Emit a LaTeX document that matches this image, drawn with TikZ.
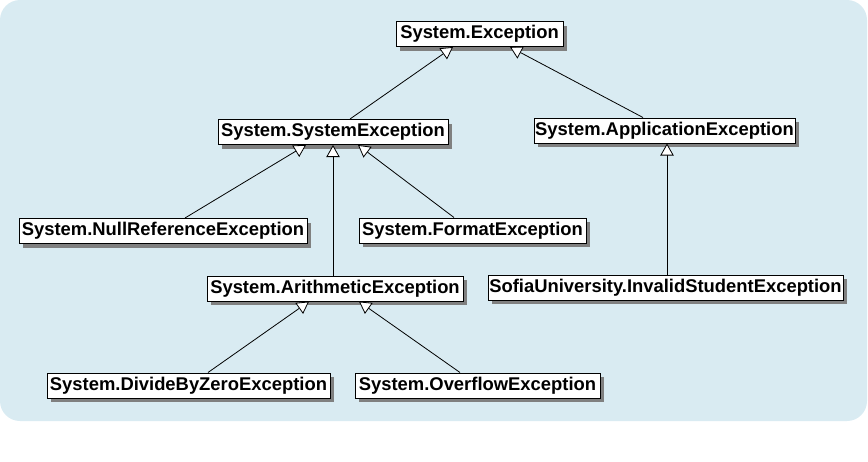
\documentclass[tikz,border=0pt]{standalone}
\usepackage{fontspec}
\setmainfont{Liberation Sans}
\usetikzlibrary{arrows.meta,calc,shadows}
\definecolor{bgblue}{RGB}{217,235,242}
\definecolor{shadowgray}{RGB}{128,128,128}
\begin{document}
\begin{tikzpicture}[x=0.75pt,y=-0.75pt,
  cls/.style={draw=black, line width=0.75pt, fill=white, inner sep=0pt,
    minimum height=18.75pt,
    font=\fontsize{13.8}{16}\selectfont\bfseries,
    drop shadow={shadow xshift=3pt, shadow yshift=-3pt, fill=shadowgray, opacity=1}},
  inh/.style={draw=black, line width=0.6pt,
    -{Triangle[length=9pt,width=10pt,fill=white,line width=0.6pt]}}]
\useasboundingbox (0,0) rectangle (868,461);
\fill[bgblue, rounded corners=15pt] (0,0) rectangle (867,421);

\node[cls, minimum width=125.25pt] (exc) at (479.5,34) {System.Exception};
\node[cls, minimum width=172.5pt] (sys) at (333,132) {System.SystemException};
\node[cls, minimum width=195.75pt] (app) at (664.5,130.5) {System.ApplicationException};
\node[cls, minimum width=216pt] (nul) at (163,231) {System.NullReferenceException};
\node[cls, minimum width=170.25pt] (fmt) at (472.5,230.5) {System.FormatException};
\node[cls, minimum width=192pt] (ari) at (335,288.5) {System.ArithmeticException};
\node[cls, minimum width=266.25pt] (sof) at (665.5,287.5) {SofiaUniversity.InvalidStudentException};
\node[cls, minimum width=212.25pt] (div) at (188.5,385.5) {System.DivideByZeroException};
\node[cls, minimum width=183.75pt] (ovf) at (477.5,385.5) {System.OverflowException};

\draw[inh] ($(sys.north)+(17,0)$) -- ($(exc.south)+(-26.5,0)$);
\draw[inh] ($(app.north)+(-21.5,0)$) -- ($(exc.south)+(30.5,0)$);
\draw[inh] ($(nul.north)+(22,0)$) -- ($(sys.south)+(-27,0)$);
\draw[inh] ($(ari.north)+(-2,0)$) -- ($(sys.south)+(0,0)$);
\draw[inh] ($(fmt.north)+(-18.5,0)$) -- ($(sys.south)+(25,0)$);
\draw[inh] ($(sof.north)+(1.5,0)$) -- ($(app.south)+(2.5,0)$);
\draw[inh] ($(div.north)+(19.5,0)$) -- ($(ari.south)+(-26,0)$);
\draw[inh] ($(ovf.north)+(-17.5,0)$) -- ($(ari.south)+(24,0)$);
\end{tikzpicture}
\end{document}
